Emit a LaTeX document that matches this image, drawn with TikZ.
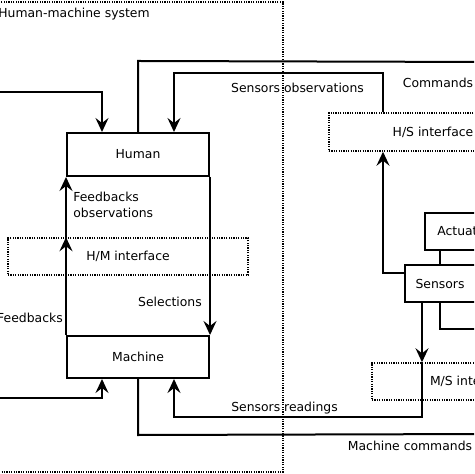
\documentclass[tikz,border=0pt]{standalone}
\usepackage{fontspec}
\setmainfont{DejaVu Sans}
\usetikzlibrary{arrows.meta}

\begin{document}
\begin{tikzpicture}[
	x=0.5pt, y=-0.5pt,
	font=\fontsize{6.2}{8}\selectfont,
	box/.style={draw, line width=1pt, inner sep=0pt, minimum height=18.5pt},
	iface/.style={draw, line width=0.75pt, dash pattern=on 0.6pt off 0.6pt, inner sep=0pt, minimum height=18.5pt},
	label/.style={inner sep=0pt},
	arrow/.style={-{Stealth[length=7pt, width=6.5pt, inset=2.5pt]}, line width=1pt},
	link/.style={line width=1pt}
]
\useasboundingbox (0,0) rectangle (474,474);
\clip (0,0) rectangle (474,474);

\node[iface, minimum width=151.5pt, minimum height=235pt] (hms) at (131.5,237) {};
\node[label] (hmslabel) at (74,14) {Human-machine system};

\node[box, minimum width=71pt, minimum height=21.5pt] (human) at (138,154.5) {Human};
\node[box, minimum width=71pt, minimum height=21pt] (machine) at (138,357) {Machine};
\node[iface, minimum width=120pt] (hmi) at (128,256.5) {H/M interface};

\node[iface, minimum width=104pt, minimum height=19pt] (hsi) at (433,132) {H/S interface};
\node[iface, minimum width=99pt] (msi) at (471,381.5) {M/S interface};
\node[box, minimum width=42pt] (actuators) at (467,231.5) {Actuators};
\node[box, minimum width=35.5pt] (sensors) at (440,283.5) {Sensors};

\coordinate (envhum) at (-10,92);
\coordinate (envmach) at (-10,398);
\coordinate (cmdout) at (490,62);
\coordinate (mcmdout) at (490,434);
\coordinate (procin) at (490,329);
\coordinate (sobs) at (383,273);

\node[label, anchor=west, align=left] (fbobs) at (73,205) {Feedbacks\\observations};
\node[label] (sel) at (170,302) {Selections};
\node[label] (fb) at (30,318) {Feedbacks};
\node[label] (sobslabel) at (297.5,88) {Sensors observations};
\node[label] (cmdlabel) at (438,83) {Commands};
\node[label] (sreadlabel) at (284.5,408) {Sensors readings};
\node[label] (mcmdlabel) at (410,446) {Machine commands};

\draw[arrow] (envhum) -| ([xshift=-18pt]human.north);
\draw[arrow] (envmach) -| ([xshift=-18pt]machine.south);

\draw[arrow] (machine.north west) -- (machine.north west |- hmi.north);
\draw[arrow] (machine.north west |- hmi.north) -- (human.south west);
\draw[arrow] (human.south east) -- (machine.north east);

\draw[link] (human.north) -- ++(0,-71) -- (cmdout);
\draw[link] (machine.south) -- ++(0,56) -- (mcmdout);

\draw[arrow] (sensors.west |- sobs) -- (sobs) -- (sobs |- hsi.south);
\draw[arrow] (sobs |- hsi.north) -- ++(0,-39) -| ([xshift=18pt]human.north);

\draw[arrow] ([xshift=-9pt]sensors.south) -- ([xshift=-9pt]sensors.south |- msi.north);
\draw[arrow] ([xshift=-9pt]sensors.south |- msi.north) -- ++(0,55) -| ([xshift=18pt]machine.south);

\draw[link] (sensors.north) -- (sensors.north |- actuators.south);
\draw[link] (sensors.south) |- (procin);
\end{tikzpicture}
\end{document}
